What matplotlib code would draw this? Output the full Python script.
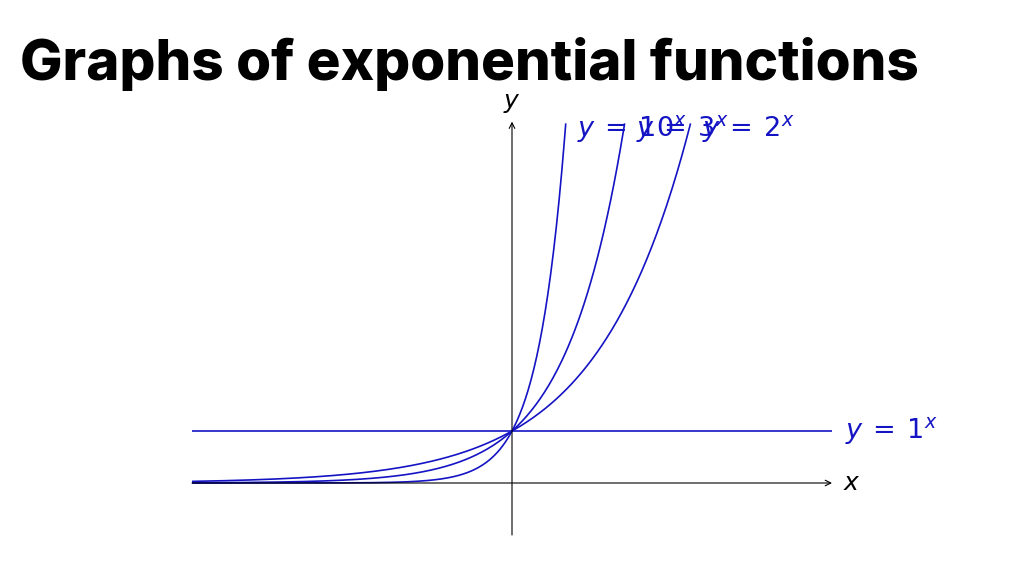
import numpy as np
import matplotlib.pyplot as plt

# bases of the plotted exponentials and their label text
bases = [10, 3, 2]
base_labels = [r"$y\:=\:10^x$", r"$y\:=\:3^x$", r"$y\:=\:2^x$"]
flat_base = 1
flat_label = r"$y\:=\:1^x$"

x_min, x_max = -5, 5
y_min, y_max = -1, 7
y_top = 6.9  # where the curves stop

curve_color = "#1414c4"

plt.rcParams["mathtext.fontset"] = "dejavusans"

fig = plt.figure(figsize=(10.24, 5.77), dpi=100)
ax = fig.add_axes([192 / 1024, (577 - 535) / 577, 640 / 1024, 416 / 577])
ax.set_xlim(x_min, x_max)
ax.set_ylim(y_min, y_max)
ax.axis("off")

# axes with arrows
ax.annotate("", xy=(x_max, 0), xytext=(x_min, 0),
            arrowprops=dict(arrowstyle="->", color="black", lw=0.8, shrinkA=0, shrinkB=0))
ax.annotate("", xy=(0, 6.95), xytext=(0, y_min),
            arrowprops=dict(arrowstyle="->", color="black", lw=0.8, shrinkA=0, shrinkB=0))
ax.text(x_max + 0.17, 0, "$x$", fontsize=18, va="center", ha="left")
ax.text(0, 7.3, "$y$", fontsize=18, va="center", ha="center")

# y = 1^x
xs = np.linspace(x_min, x_max, 50)
ax.plot(xs, flat_base ** xs, color=curve_color, lw=1.2)
ax.text(x_max + 0.2, 1, flat_label, fontsize=19.5, color=curve_color, va="center", ha="left")

for b, lab in zip(bases, base_labels):
    x_end = np.log(y_top) / np.log(b)
    xs = np.linspace(x_min, x_end, 400)
    ax.plot(xs, b ** xs, color=curve_color, lw=1.2)
    ax.text(x_end + 0.18, y_top - 0.1, lab, fontsize=19.5, color=curve_color,
            va="center", ha="left")

fig.text(20 / 1024, 1 - 80 / 577, "Graphs of exponential functions",
         fontsize=40.7, fontweight="heavy", family="Inter", va="baseline", ha="left")

fig.savefig("out.png", dpi=100)
